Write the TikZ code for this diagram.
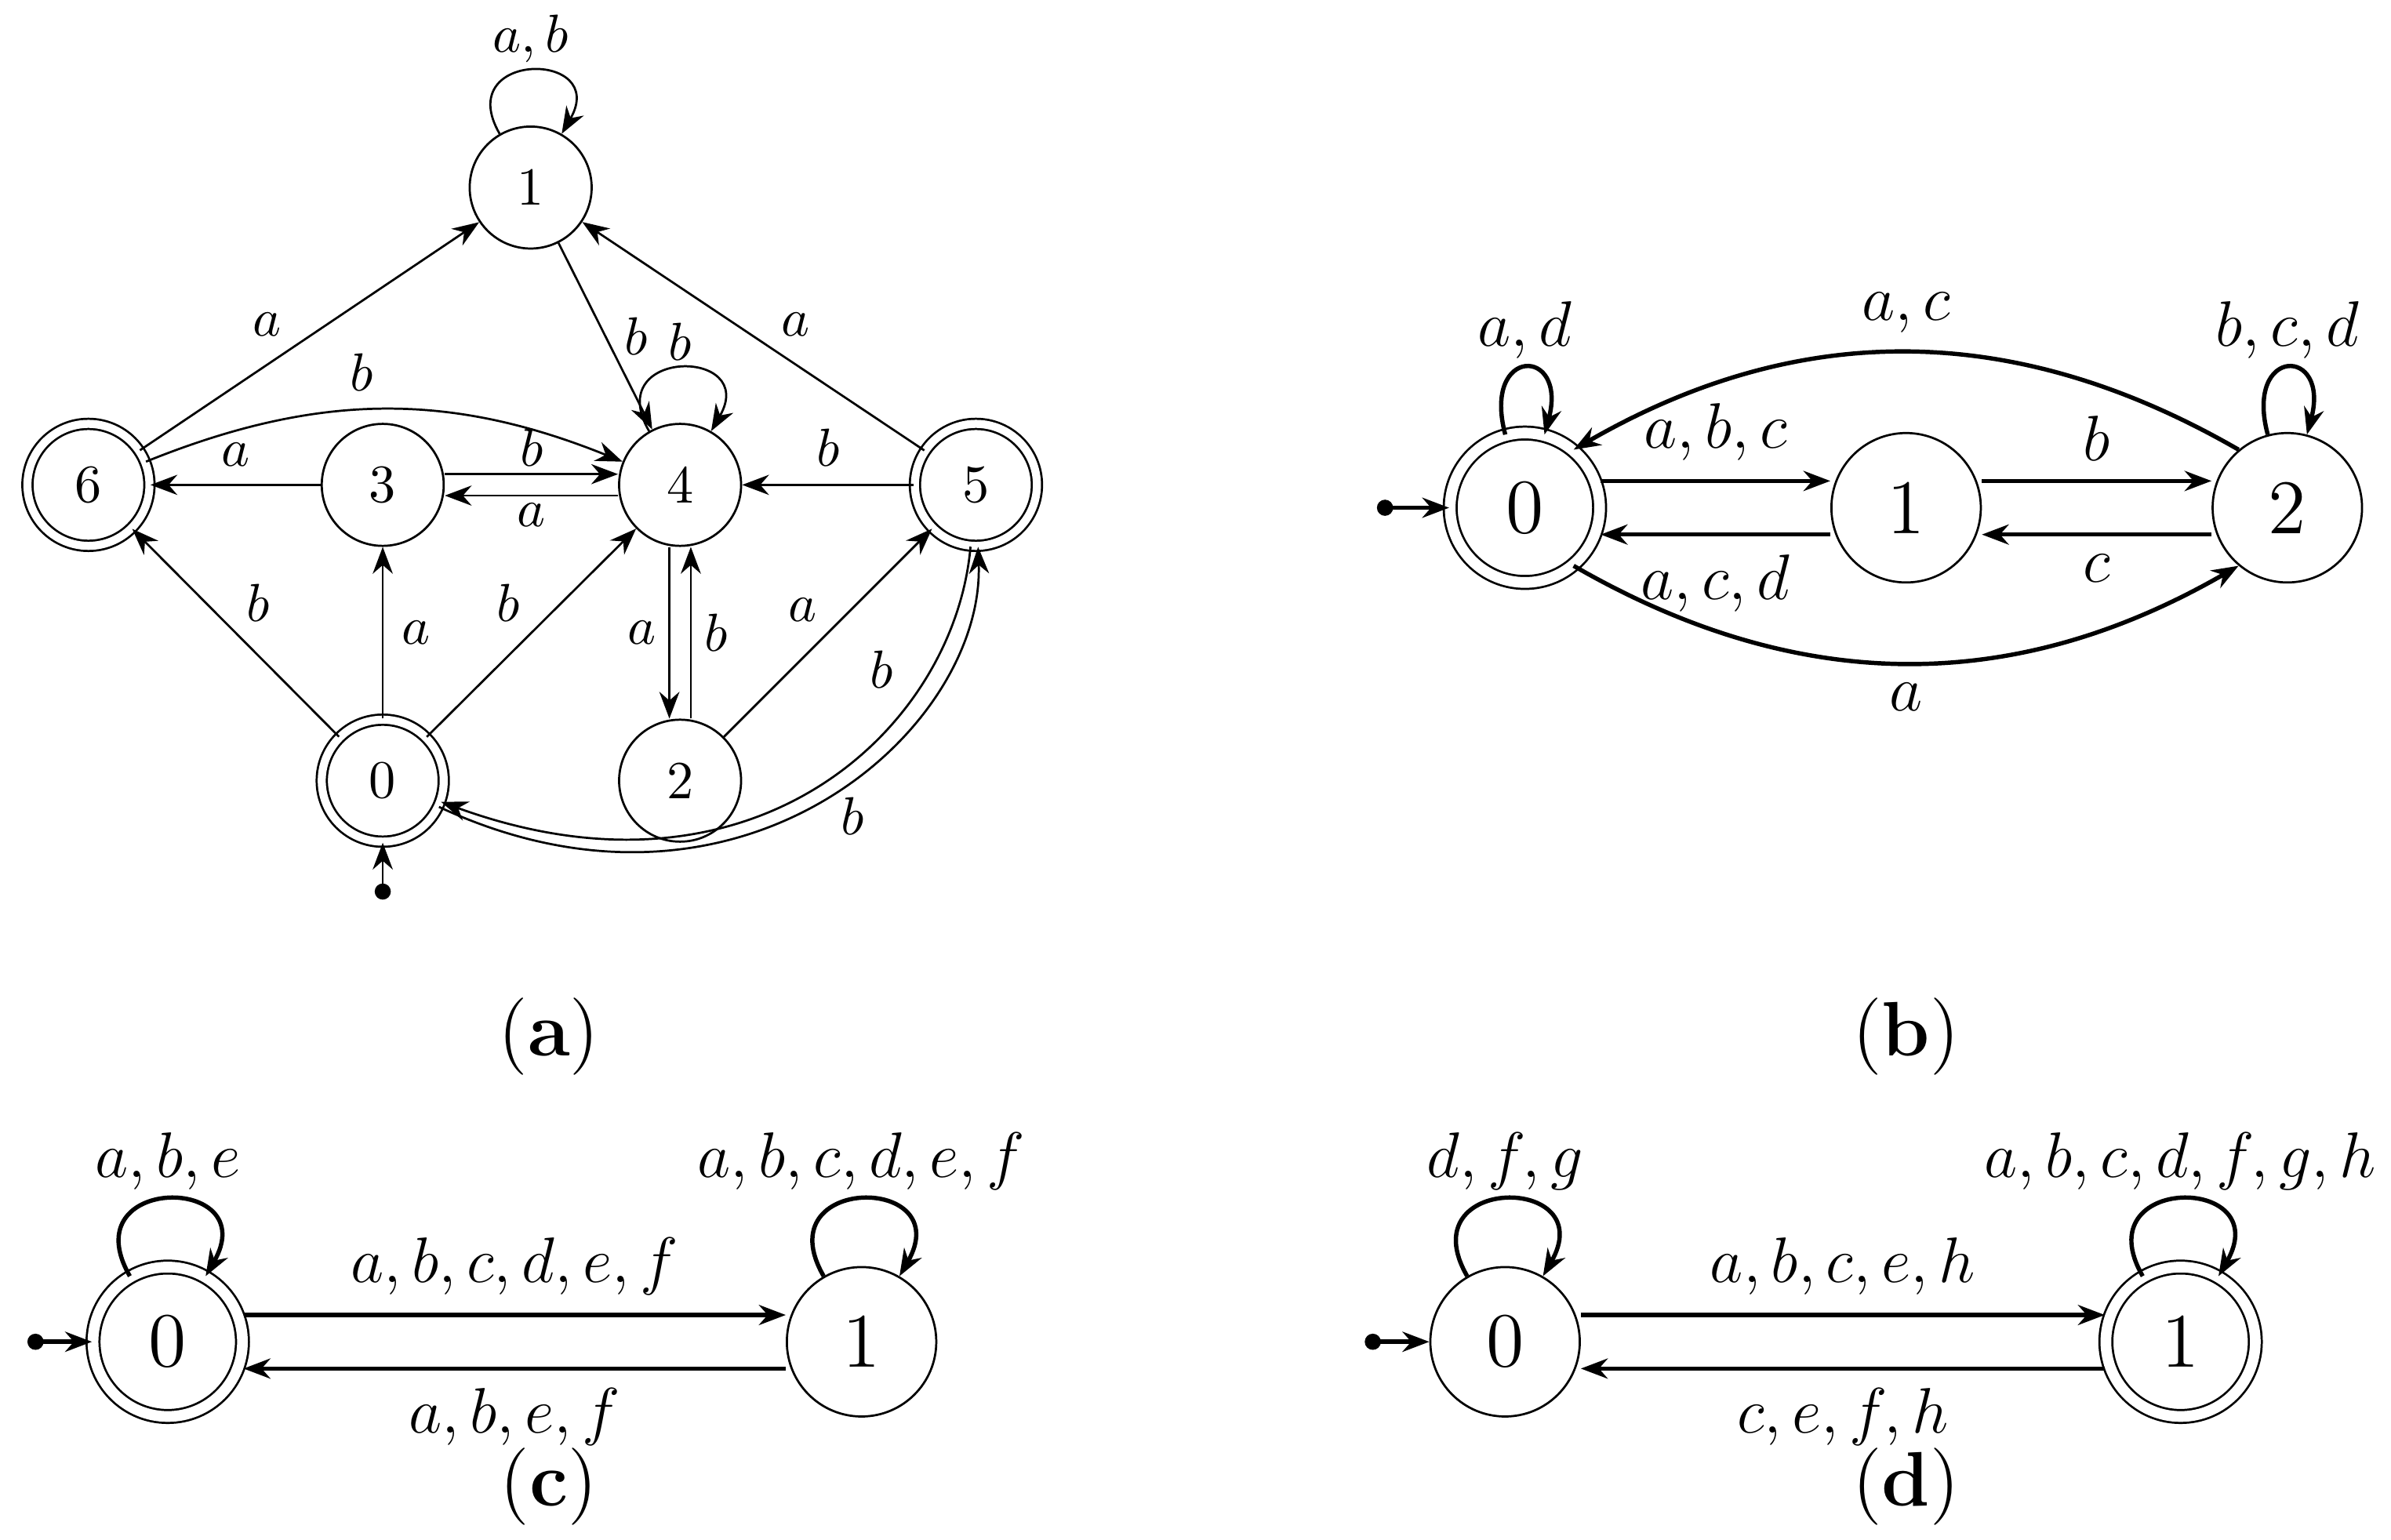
\documentclass[tikz,border=0pt]{standalone}
\usepackage{amsmath}
\usetikzlibrary{positioning,arrows.meta}
\begin{document}
\begin{tikzpicture}[->,>={Stealth[length=5pt]},
  every loop/.style={min distance=0.3cm,out=120,in=60,looseness=4},
  state/.style={circle,draw,minimum size=0.8cm,inner sep=0pt},
  accept/.style={state,double,double distance=1.5pt},
  bigstate/.style={circle,draw,minimum size=0.98cm,inner sep=0pt,font=\Large},
  bigaccept/.style={bigstate,double,double distance=2pt},
  lbl/.style={font=\normalsize},
  biglbl/.style={font=\large},
  init/.style={{Circle[length=3pt]}->}]
  \useasboundingbox (0,0) rectangle (15.68,-10.1);
  % (a)
  \node[state] (A_1) at (3.48,-1.23) {1};
  \node[accept] (A_6) at (0.58,-3.18) {6};
  \node[state] (A_3) at (2.51,-3.18) {3};
  \node[state] (A_4) at (4.46,-3.18) {4};
  \node[accept] (A_5) at (6.40,-3.18) {5};
  \node[accept] (A_0) at (2.51,-5.12) {0};
  \node[state] (A_2) at (4.46,-5.12) {2};
  \coordinate (A_s) at (2.51,-5.90);
  \draw[init] (A_s) -- (A_0);
  \draw (A_1) edge[loop above] node[above=-2pt] {$a,b$} (A_1);
  \draw (A_6) -- node[above left=-2pt,pos=0.45] {$a$} (A_1);
  \draw (A_6) to[bend left=22] node[above,pos=0.45] {$b$} (A_4);
  \draw (A_3) -- node[above] {$a$} (A_6);
  \draw ([yshift=2pt]A_3.east) -- node[above=-2pt] {$b$} ([yshift=2pt]A_4.west);
  \draw ([yshift=-2pt]A_4.west) -- node[below=-2pt] {$a$} ([yshift=-2pt]A_3.east);
  \draw (A_4) edge[loop above] node[above=-2pt] {$b$} (A_4);
  \draw (A_1) -- node[right,pos=0.5] {$b$} (A_4);
  \draw (A_5) -- node[above right=-2pt,pos=0.45] {$a$} (A_1);
  \draw (A_5) -- node[above] {$b$} (A_4);
  \draw (A_0) -- node[above right=-2pt] {$b$} (A_6);
  \draw (A_0) -- node[right] {$a$} (A_3);
  \draw (A_0) -- node[above left=-2pt] {$b$} (A_4);
  \draw ([xshift=-2pt]A_4.south) -- node[left=-1pt] {$a$} ([xshift=-2pt]A_2.north);
  \draw ([xshift=2pt]A_2.north) -- node[right=-1pt] {$b$} ([xshift=2pt]A_4.south);
  \draw (A_2) -- node[above left=-2pt] {$a$} (A_5);
  \draw (A_0) .. controls +(-25:2.6) and +(-88:1.6) .. node[below,pos=0.55] {$b$} (A_5);
  \draw (A_5) .. controls +(-95:1.6) and +(-20:2.6) .. node[above left=-1pt,pos=0.3] {$b$} (A_0);
  \node at (3.60,-6.80) {\Large(\textbf{a})};
  % (b)
  \node[bigaccept] (B_0) at (10.00,-3.33) {0};
  \node[bigstate] (B_1) at (12.50,-3.33) {1};
  \node[bigstate] (B_2) at (15.00,-3.33) {2};
  \coordinate (B_s) at (9.03,-3.33);
  \draw[init,thick] (B_s) -- (B_0);
  \draw[thick] (B_0) edge[loop above,looseness=6] node[above=-2pt,biglbl] {$a,d$} (B_0);
  \draw[thick] (B_2) edge[loop above,looseness=6] node[above=-2pt,biglbl] {$b,c,d$} (B_2);
  \draw[thick] ([yshift=5pt]B_0.east) -- node[above,biglbl] {$a,b,c$} ([yshift=5pt]B_1.west);
  \draw[thick] ([yshift=-5pt]B_1.west) -- node[below,biglbl] {$a,c,d$} ([yshift=-5pt]B_0.east);
  \draw[thick] ([yshift=5pt]B_1.east) -- node[above,biglbl] {$b$} ([yshift=5pt]B_2.west);
  \draw[thick] ([yshift=-5pt]B_2.west) -- node[below,biglbl] {$c$} ([yshift=-5pt]B_1.east);
  \draw[thick] (B_2.130) to[out=150,in=30] node[above,biglbl] {$a,c$} (B_0.50);
  \draw[thick] (B_0.-50) to[out=-30,in=-150] node[below,biglbl] {$a$} (B_2.-130);
  \node at (12.50,-6.80) {\Large(\textbf{b})};
  % (c)
  \node[bigaccept] (C_0) at (1.10,-8.80) {0};
  \node[bigstate] (C_1) at (5.65,-8.80) {1};
  \coordinate (C_s) at (0.18,-8.80);
  \draw[init,thick] (C_s) -- (C_0);
  \draw[thick] (C_0) edge[loop above] node[above=-2pt,biglbl] {$a,b,e$} (C_0);
  \draw[thick] (C_1) edge[loop above] node[above=-2pt,biglbl] {$a,b,c,d,e,f$} (C_1);
  \draw[thick] ([yshift=5pt]C_0.east) -- node[above,biglbl] {$a,b,c,d,e,f$} ([yshift=5pt]C_1.west);
  \draw[thick] ([yshift=-5pt]C_1.west) -- node[below,biglbl] {$a,b,e,f$} ([yshift=-5pt]C_0.east);
  \node at (3.60,-9.75) {\Large(\textbf{c})};
  % (d)
  \node[bigstate] (D_0) at (9.87,-8.80) {0};
  \node[bigaccept] (D_1) at (14.30,-8.80) {1};
  \coordinate (D_s) at (8.95,-8.80);
  \draw[init,thick] (D_s) -- (D_0);
  \draw[thick] (D_0) edge[loop above] node[above=-2pt,biglbl] {$d,f,g$} (D_0);
  \draw[thick] (D_1) edge[loop above] node[above=-2pt,biglbl] {$a,b,c,d,f,g,h$} (D_1);
  \draw[thick] ([yshift=5pt]D_0.east) -- node[above,biglbl] {$a,b,c,e,h$} ([yshift=5pt]D_1.west);
  \draw[thick] ([yshift=-5pt]D_1.west) -- node[below,biglbl] {$c,e,f,h$} ([yshift=-5pt]D_0.east);
  \node at (12.50,-9.75) {\Large(\textbf{d})};
\end{tikzpicture}
\end{document}
